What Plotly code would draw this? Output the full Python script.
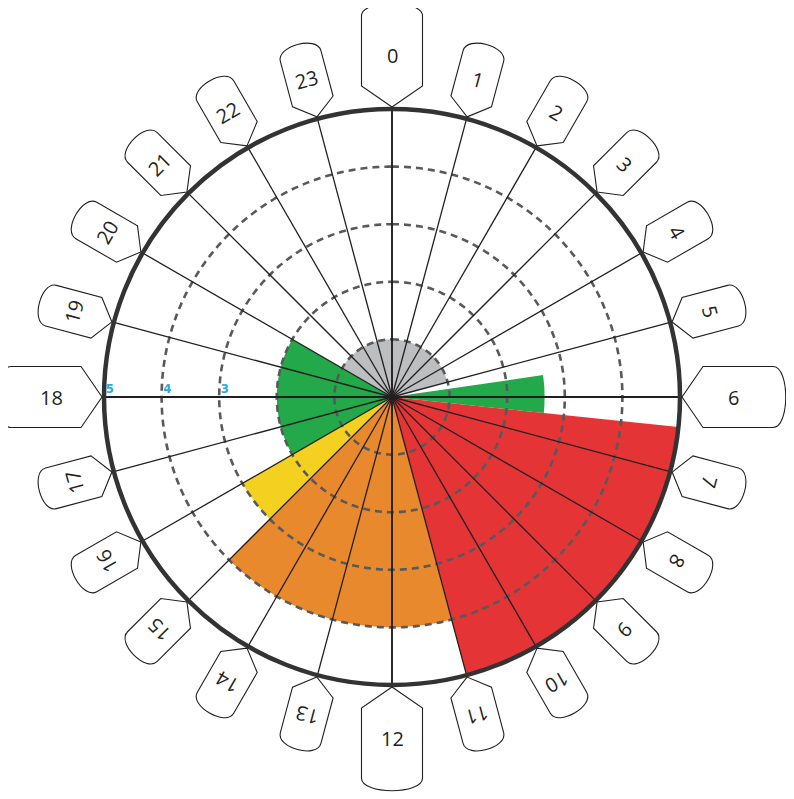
import numpy as np
import plotly.graph_objects as go

# ---------------- data ----------------
hours = list(range(24))
hour_labels = [str(h) for h in hours]

seg_start = [20.0, 5.45, 6.4, 11.0, 15.0, 16.0]
seg_end = [29.0, 6.4, 11.0, 15.0, 16.0, 20.0]
seg_value = [1.0, 2.65, 5.0, 4.0, 3.0, 2.0]
seg_color = ["#BCBEC0", "#23A84A", "#E43436", "#E8892D", "#F4D121", "#23A84A"]

ring_values = [1, 2, 3, 4]
radial_tick_vals = [2.83, 3.83, 4.83]
radial_tick_text = ["3", "4", "5"]

# ---------------- geometry ----------------
W, H = 794, 799
PAGE_OFF = 8                      # page body margin offset
CX, CY, RPX = 392 - PAGE_OFF, 397 - PAGE_OFF, 288
RMAX = 5

fig = go.Figure()

theta_c = [((s + e) / 2 * 15) % 360 for s, e in zip(seg_start, seg_end)]
widths = [(e - s) * 15 for s, e in zip(seg_start, seg_end)]
fig.add_trace(go.Barpolar(
    r=seg_value, theta=theta_c, width=widths,
    marker=dict(color=seg_color, line=dict(width=0)),
    hoverinfo="skip", showlegend=False,
))

# dashed rings on top of bars
tt = np.linspace(0, 360, 721)
for rv in ring_values:
    fig.add_trace(go.Scatterpolar(
        r=[rv] * len(tt), theta=tt, mode="lines",
        line=dict(color="#58595B", width=2.6, dash="7px,5px"),
        hoverinfo="skip", showlegend=False,
    ))

# spokes
for group, lw in (([h for h in hours if h % 6 != 0], 1.3), ([h for h in hours if h % 6 == 0], 1.9)):
    rr, th = [], []
    for h in group:
        rr += [0, RMAX, None]
        th += [h * 15, h * 15, None]
    fig.add_trace(go.Scatterpolar(
        r=rr, theta=th, mode="lines",
        line=dict(color="#231F20", width=lw),
        hoverinfo="skip", showlegend=False,
    ))

# ---------------- hour tags ----------------
def to_paper(x, y):
    return x / W, 1 - y / H

shapes = []
annotations = []
for h, lab in zip(hours, hour_labels):
    a = np.deg2rad(h * 15)
    u = np.array([np.sin(a), -np.cos(a)])
    v = np.array([np.cos(a), np.sin(a)])
    c = np.array([CX, CY], dtype=float)
    r0 = RPX + 2
    if h % 6 == 0:
        w, d1, d2, k, dt = 30.5, 21, 91, 17, 51
    else:
        w, d1, d2, k, dt = 21, 16, 63, 16, 39
    P0 = c + r0 * u
    P1 = c + (r0 + d1) * u + w * v
    P2 = c + (r0 + d2) * u + w * v
    C1 = c + (r0 + d2 + k) * u + w * v
    C2 = c + (r0 + d2 + k) * u - w * v
    P3 = c + (r0 + d2) * u - w * v
    P4 = c + (r0 + d1) * u - w * v
    pts = [to_paper(*p) for p in (P0, P1, P2, C1, C2, P3, P4)]
    f = lambda p: f"{p[0]:.5f},{p[1]:.5f}"
    path = (f"M {f(pts[0])} L {f(pts[1])} L {f(pts[2])} "
            f"C {f(pts[3])} {f(pts[4])} {f(pts[5])} L {f(pts[6])} Z")
    shapes.append(dict(type="path", path=path, xref="paper", yref="paper",
                       line=dict(color="#231F20", width=1.1),
                       fillcolor="white", layer="above"))
    T = c + (r0 + dt) * u
    tx, ty = to_paper(*T)
    ang = 0 if h % 6 == 0 else ((h * 15 + 180) % 360) - 180
    annotations.append(dict(
        x=tx, y=ty, xref="paper", yref="paper", text=lab, showarrow=False,
        textangle=ang, xanchor="center", yanchor="middle",
        font=dict(family="Open Sans, Noto Sans, sans-serif", size=20, color="#231F20"),
    ))

fig.update_layout(
    width=W, height=H,
    margin=dict(l=0, r=0, t=0, b=0),
    paper_bgcolor="white",
    showlegend=False,
    shapes=shapes,
    annotations=annotations,
    polar=dict(
        domain=dict(x=[(CX - RPX) / W, (CX + RPX) / W],
                    y=[(H - CY - RPX) / H, (H - CY + RPX) / H]),
        bgcolor="white",
        angularaxis=dict(direction="clockwise", rotation=90, showgrid=False,
                         showticklabels=False, ticks="", showline=True,
                         linecolor="#333333", linewidth=4.5, layer="above traces"),
        radialaxis=dict(range=[0, RMAX], showgrid=False, showline=False,
                        ticks="outside", ticklen=1, tickcolor="rgba(0,0,0,0)",
                        tickvals=radial_tick_vals, ticktext=radial_tick_text,
                        angle=180, tickangle=180, side="clockwise",
                        layer="above traces",
                        tickfont=dict(family="DejaVu Sans Condensed, Liberation Sans Narrow, sans-serif",
                                      size=13, color="#29ABE2", weight="bold")),
    ),
)

fig.write_html("out.html")
